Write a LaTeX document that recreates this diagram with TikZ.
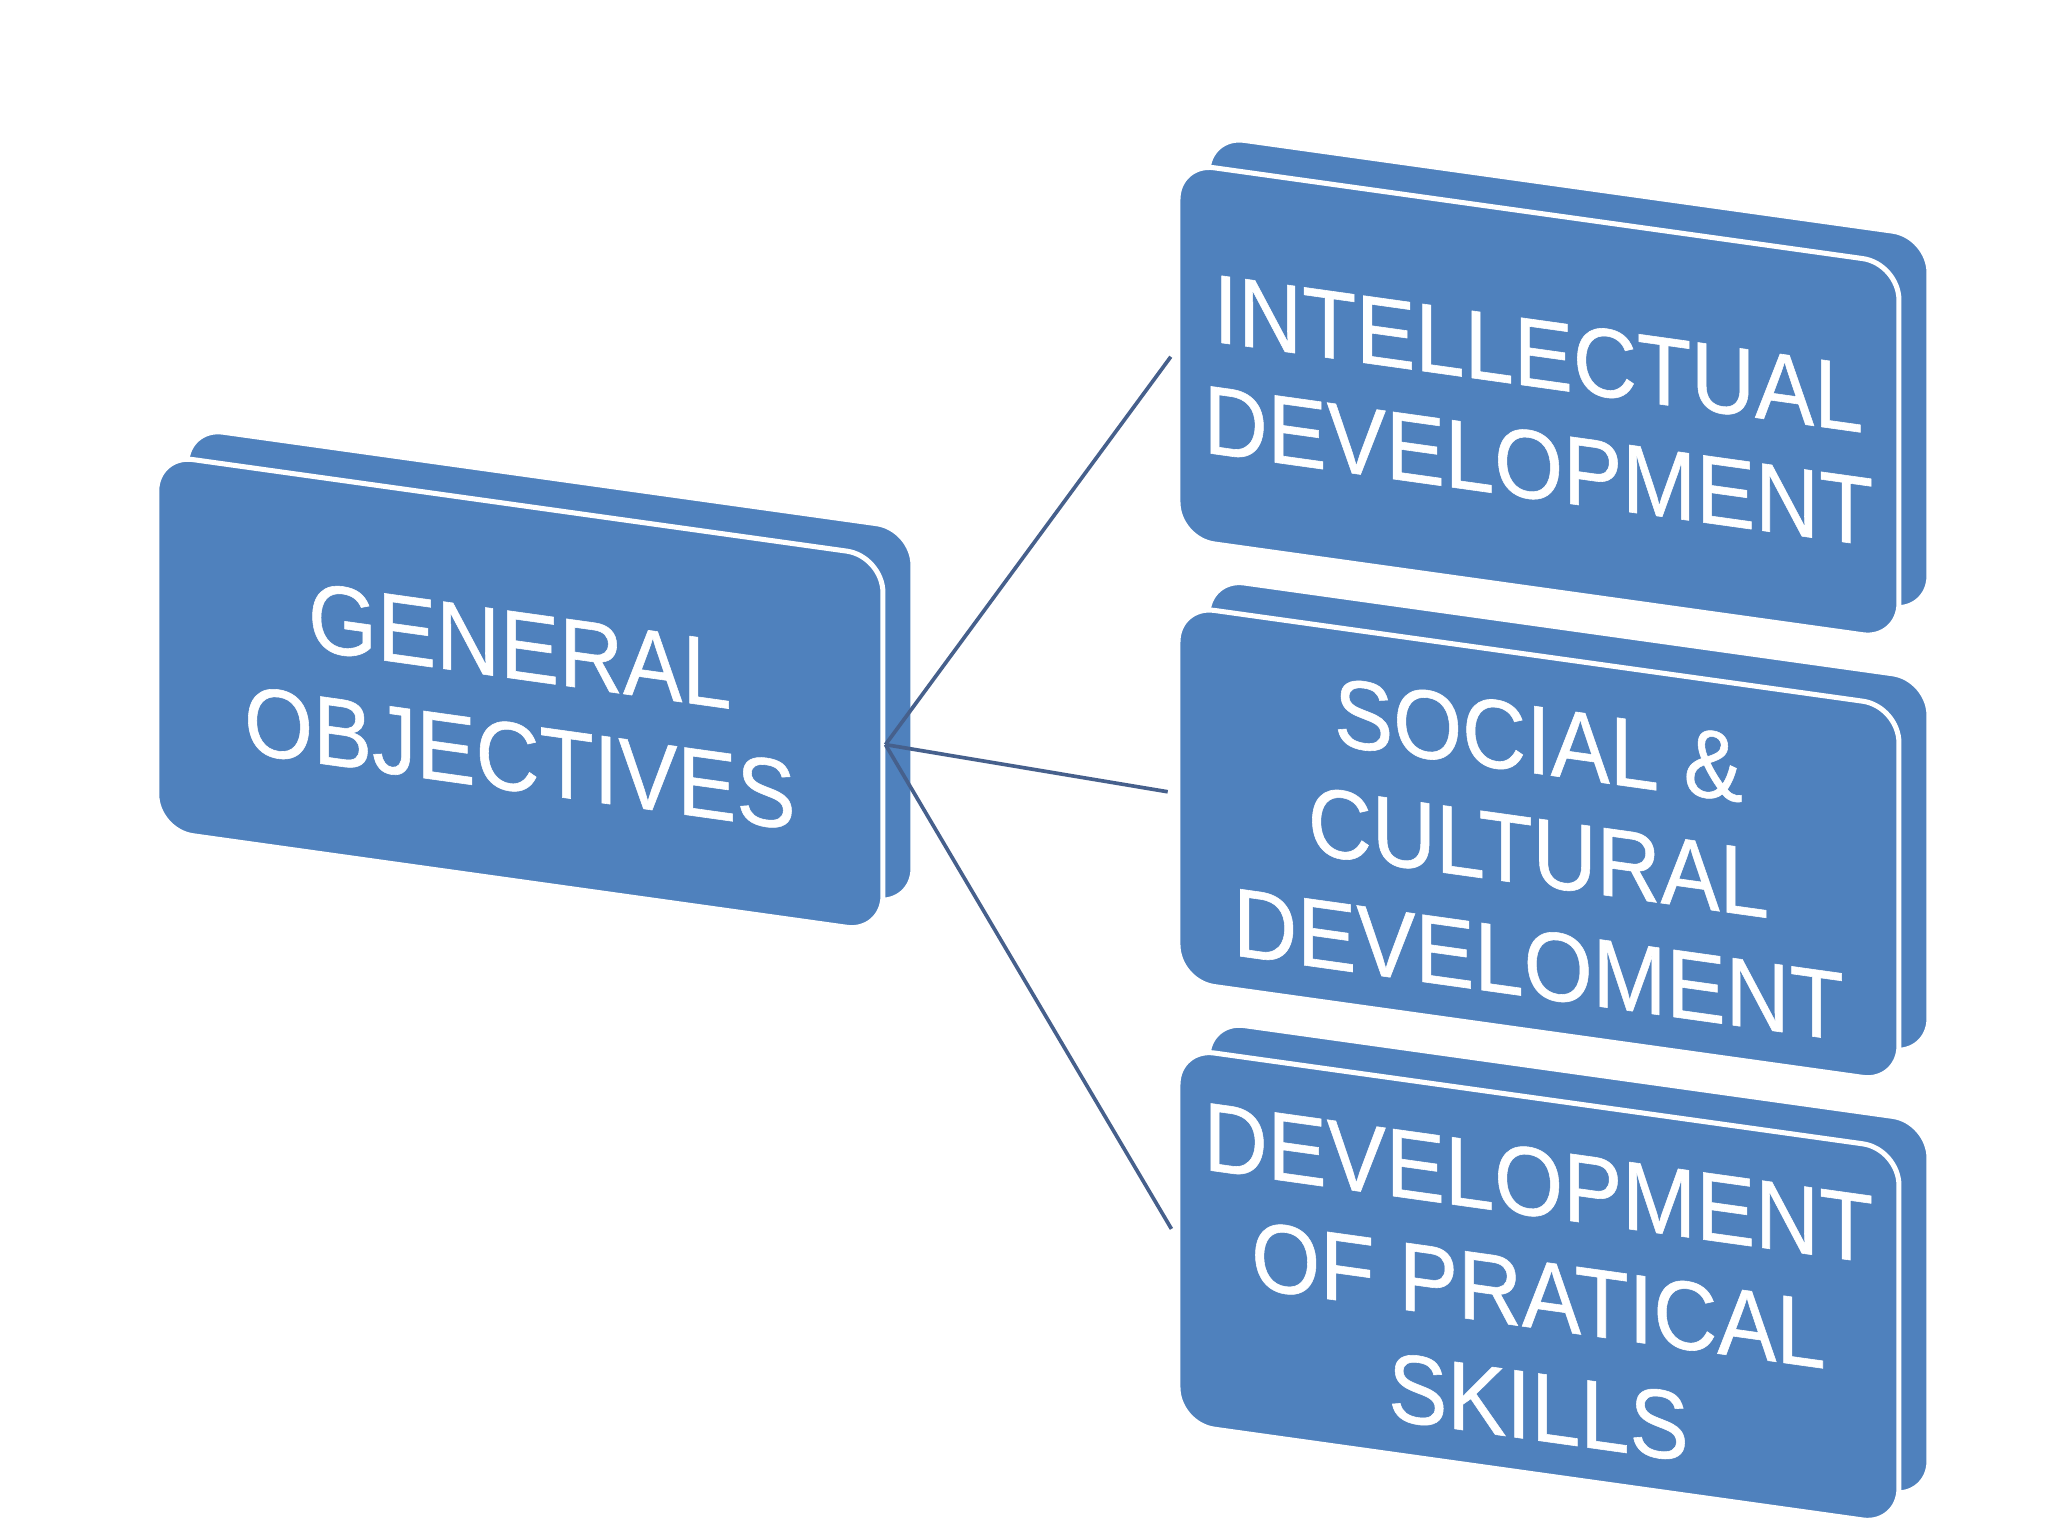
\documentclass[tikz,border=0pt]{standalone}
\usepackage{fontspec}
\setmainfont{Liberation Sans}
\newfontfamily\blockfont{Liberation Sans}[FakeBold=0.6]
\usetikzlibrary{positioning,shadows}
\definecolor{boxblue}{HTML}{4F81BD}
\definecolor{linkblue}{HTML}{46608C}
\newcommand{\blocktext}[1]{\raisebox{-1.5mm}[\height][\depth]{\scalebox{1}[1.1]{\begin{tabular}{@{}c@{}}#1\end{tabular}}}}

\begin{document}
\begin{tikzpicture}[node distance=0.47cm,
	block/.style = {draw=white, line width=1.1pt, fill=boxblue, rounded corners=0.28cm, inner sep=1pt,
		minimum width=5.52cm, minimum height=2.88cm, text=white,
		font=\blockfont\fontsize{19.3}{22.2}\selectfont, copy shadow={shadow xshift=0.23cm, shadow yshift=0.21cm}},
	link/.style = {draw=linkblue, line width=0.8pt, shorten >=0.06cm}]
\useasboundingbox (0,0) rectangle (15.68,-11.76);
\begin{scope}[yslant=-0.14, transform shape]
\node[block, minimum width=5.56cm] at (3.98,-4.752)    (general) {\blocktext{GENERAL\\OBJECTIVES}};
\node[block, right=2.22cm of general, yshift=-0.06cm] (social)  {\blocktext{SOCIAL \&\\CULTURAL\\DEVELOMENT}};
\node[block, above=of social]                         (intel)   {\blocktext{INTELLECTUAL\\DEVELOPMENT}};
\node[block, below=of social]                         (skills)  {\blocktext{DEVELOPMENT\\OF PRATICAL\\SKILLS}};
\end{scope}

\draw[link] (general.east) -- (intel.west);
\draw[link] (general.east) -- (social.west);
\draw[link] (general.east) -- (skills.west);
\end{tikzpicture}
\end{document}
